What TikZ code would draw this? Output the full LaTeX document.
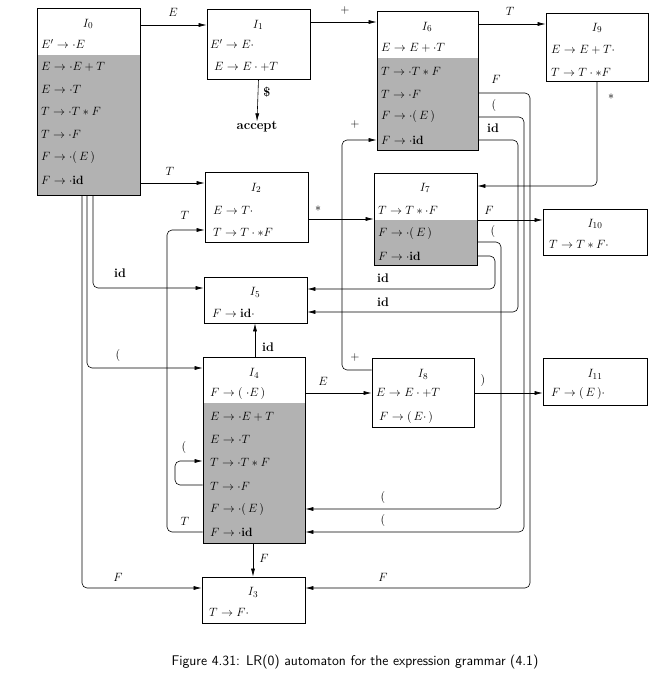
\documentclass[tikz,border=0pt]{standalone}
\usetikzlibrary{arrows.meta}
\newcommand{\mkbox}[5]{\node[box,minimum width={(#4-#2)*1pt},minimum height={(#5-#3)*1pt}] (#1) at ({(#2+#4)/2},{(#3+#5)/2}) {};}
\newcommand{\shd}[4]{\fill[gray!60] (#1,#2) rectangle (#3,#4);}
\begin{document}
\begin{tikzpicture}[x=1pt,y=-1pt,
  box/.style={draw,line width=0.7pt,inner sep=0pt},
  arr/.style={-{Latex[length=8pt,width=4pt]},line width=0.6pt,rounded corners=5pt},
  txt/.style={anchor=west,inner sep=0pt,font=\fontsize{13}{15}\selectfont},
  ttl/.style={inner sep=0pt,font=\fontsize{13}{15}\selectfont},
  lab/.style={inner sep=0pt,font=\fontsize{12.5}{14}\selectfont}]
\useasboundingbox (0,0) rectangle (668,692);
% shaded closure parts
\shd{37}{55}{140}{195}
\shd{377}{58}{478}{150}
\shd{374}{220}{477}{265}
\shd{203}{403}{305}{543}
% states
\mkbox{I0}{37}{8}{140}{195}
\mkbox{I1}{207}{9}{310}{79}
\mkbox{I6}{377}{11}{478}{150}
\mkbox{I9}{546}{13}{648}{81}
\mkbox{I2}{205}{172}{308}{242}
\mkbox{I7}{374}{173}{477}{265}
\mkbox{I10}{543}{209}{647}{255}
\mkbox{I5}{204}{277}{307}{323}
\mkbox{I4}{203}{357}{305}{543}
\mkbox{I8}{372}{358}{474}{427}
\mkbox{I11}{543}{358}{647}{405}
\mkbox{I3}{202}{577}{305}{623}
% titles
\node[ttl] (t0) at (88,24) {$I_0$};
\node[ttl] (t1) at (258,25) {$I_1$};
\node[ttl] (t6) at (427,27) {$I_6$};
\node[ttl] (t9) at (597,28) {$I_9$};
\node[ttl] (t2) at (256,188) {$I_2$};
\node[ttl] (t7) at (425,188) {$I_7$};
\node[ttl] (t10) at (595,224) {$I_{10}$};
\node[ttl] (t5) at (255,292) {$I_5$};
\node[ttl] (t4) at (254,373) {$I_4$};
\node[ttl] (t8) at (423,374) {$I_8$};
\node[ttl] (t11) at (595,374) {$I_{11}$};
\node[ttl] (t3) at (253,592) {$I_3$};
% items
\foreach \t [count=\i] in {E'\to\cdot E, E\to\cdot E+T, E\to\cdot T, T\to\cdot T*F, T\to\cdot F, F\to\cdot(\,E\,), F\to\cdot\mathbf{id}}
  \node[txt] (a\i) at (41,{21+\i*22.7}) {$\t$};
\node[txt] (b1) at (210,44) {$E'\to E\cdot$};
\node[txt] (b2) at (214,67) {$E\to E\cdot{+}T$};
\foreach \t [count=\i] in {E\to E+\cdot T, T\to\cdot T*F, T\to\cdot F, F\to\cdot(\,E\,), F\to\cdot\mathbf{id}}
  \node[txt] (c\i) at (381,{25+\i*23}) {$\t$};
\node[txt] (d1) at (551,50) {$E\to E+T\cdot$};
\node[txt] (d2) at (551,72) {$T\to T\cdot *F$};
\node[txt] (e1) at (213,210) {$E\to T\cdot$};
\node[txt] (e2) at (213,232) {$T\to T\cdot *F$};
\foreach \t [count=\i] in {T\to T*\cdot F, F\to\cdot(\,E\,), F\to\cdot\mathbf{id}}
  \node[txt] (f\i) at (378,{188+\i*22.7}) {$\t$};
\node[txt] (g1) at (549,244) {$T\to T*F\cdot$};
\node[txt] (h1) at (212,313) {$F\to\mathbf{id}\cdot$};
\foreach \t [count=\i] in {F\to(\;\cdot E\,), E\to\cdot E+T, E\to\cdot T, T\to\cdot T*F, T\to\cdot F, F\to\cdot(\,E\,), F\to\cdot\mathbf{id}}
  \node[txt] (k\i) at (210,{370+\i*23.2}) {$\t$};
\node[txt] (m1) at (376,393) {$E\to E\cdot{+}T$};
\node[txt] (m2) at (379,417) {$F\to(\,E\cdot\,)$};
\node[txt] (n1) at (551,393) {$F\to(\,E\,)\cdot$};
\node[txt] (p1) at (209,612) {$T\to F\cdot$};
\node[ttl] (acc) at (257,127) {\bfseries accept};
% transitions
\draw[arr] (I0.east|-0,25) -- (I1.west|-0,25);
\draw[arr] (I1.east|-0,22) -- (I6.west|-0,22);
\draw[arr] (I6.east|-0,24) -- (I9.west|-0,24);
\draw[arr] (I1.south) -- (acc.north);
\draw[arr] (I0.east|-0,183) -- (I2.west|-0,183);
\draw[arr] (I9.south-|597,0) |- (I7.east|-0,186);
\draw[arr] (I2.east|-0,219) -- (I7.west|-0,219);
\draw[arr] (I7.east|-0,220) -- (I10.west|-0,220);
\draw[arr] (I0.south-|93,0) |- (I5.west|-0,288);
\draw[arr] (I0.south-|87,0) |- (I4.west|-0,368);
\draw[arr] (I0.south-|82,0) |- (I3.west|-0,588);
\draw[arr] (I4.north-|255,0) -- (I5.south-|255,0);
\draw[arr] (I4.south-|253,0) -- (I3.north-|253,0);
\draw[arr] (I4.west|-0,485) -- (175,485) -- (175,461) -- (I4.west|-0,461);
\draw[arr] (I4.west|-0,532) -| (167,230) -- (I2.west|-0,230);
\draw[arr] (I4.east|-0,393) -- (I8.west|-0,393);
\draw[arr] (I8.east|-0,393) -- (I11.west|-0,393);
\draw[arr] (I8.west|-0,370) -| (342,140) -- (I6.west|-0,140);
\draw[arr] (I6.east|-0,93) -| (530,588) -- (I3.east|-0,588);
\draw[arr] (I6.east|-0,117) -| (524,532) -- (I4.east|-0,532);
\draw[arr] (I6.east|-0,140) -| (518,312) -- (I5.east|-0,312);
\draw[arr] (I7.east|-0,242) -| (501,509) -- (I4.east|-0,509);
\draw[arr] (I7.east|-0,256) -| (495,289) -- (I5.east|-0,289);
% labels
\foreach \x/\y/\t [count=\i] in {173/12/$E$, 345/11/$+$, 510/11/$T$, 170/171/$T$, 611/97/$*$, 318/209/$*$,
  489/210/$F$, 120/273/\textbf{id}, 118/355/$($, 118/577/$F$, 268/347/\textbf{id}, 264/558/$F$,
  184/447/$($, 185/521/$T$, 185/215/$T$, 323/381/$E$, 483/380/$)$, 355/125/$+$, 355/357/$+$,
  496/79/$F$, 494/106/$($, 493/128/\textbf{id}, 493/232/$($, 383/278/\textbf{id}, 383/302/\textbf{id},
  383/497/$($, 383/520/$($, 383/577/$F$, 267/92/\textbf{\$}}
  \node[lab] (l\i) at (\x,\y) {\t};
\node[inner sep=0pt,font=\fontsize{14}{16}\selectfont\sffamily] (cap) at (355,662)
  {Figure 4.31: LR(0) automaton for the expression grammar (4.1)};
\end{tikzpicture}
\end{document}
